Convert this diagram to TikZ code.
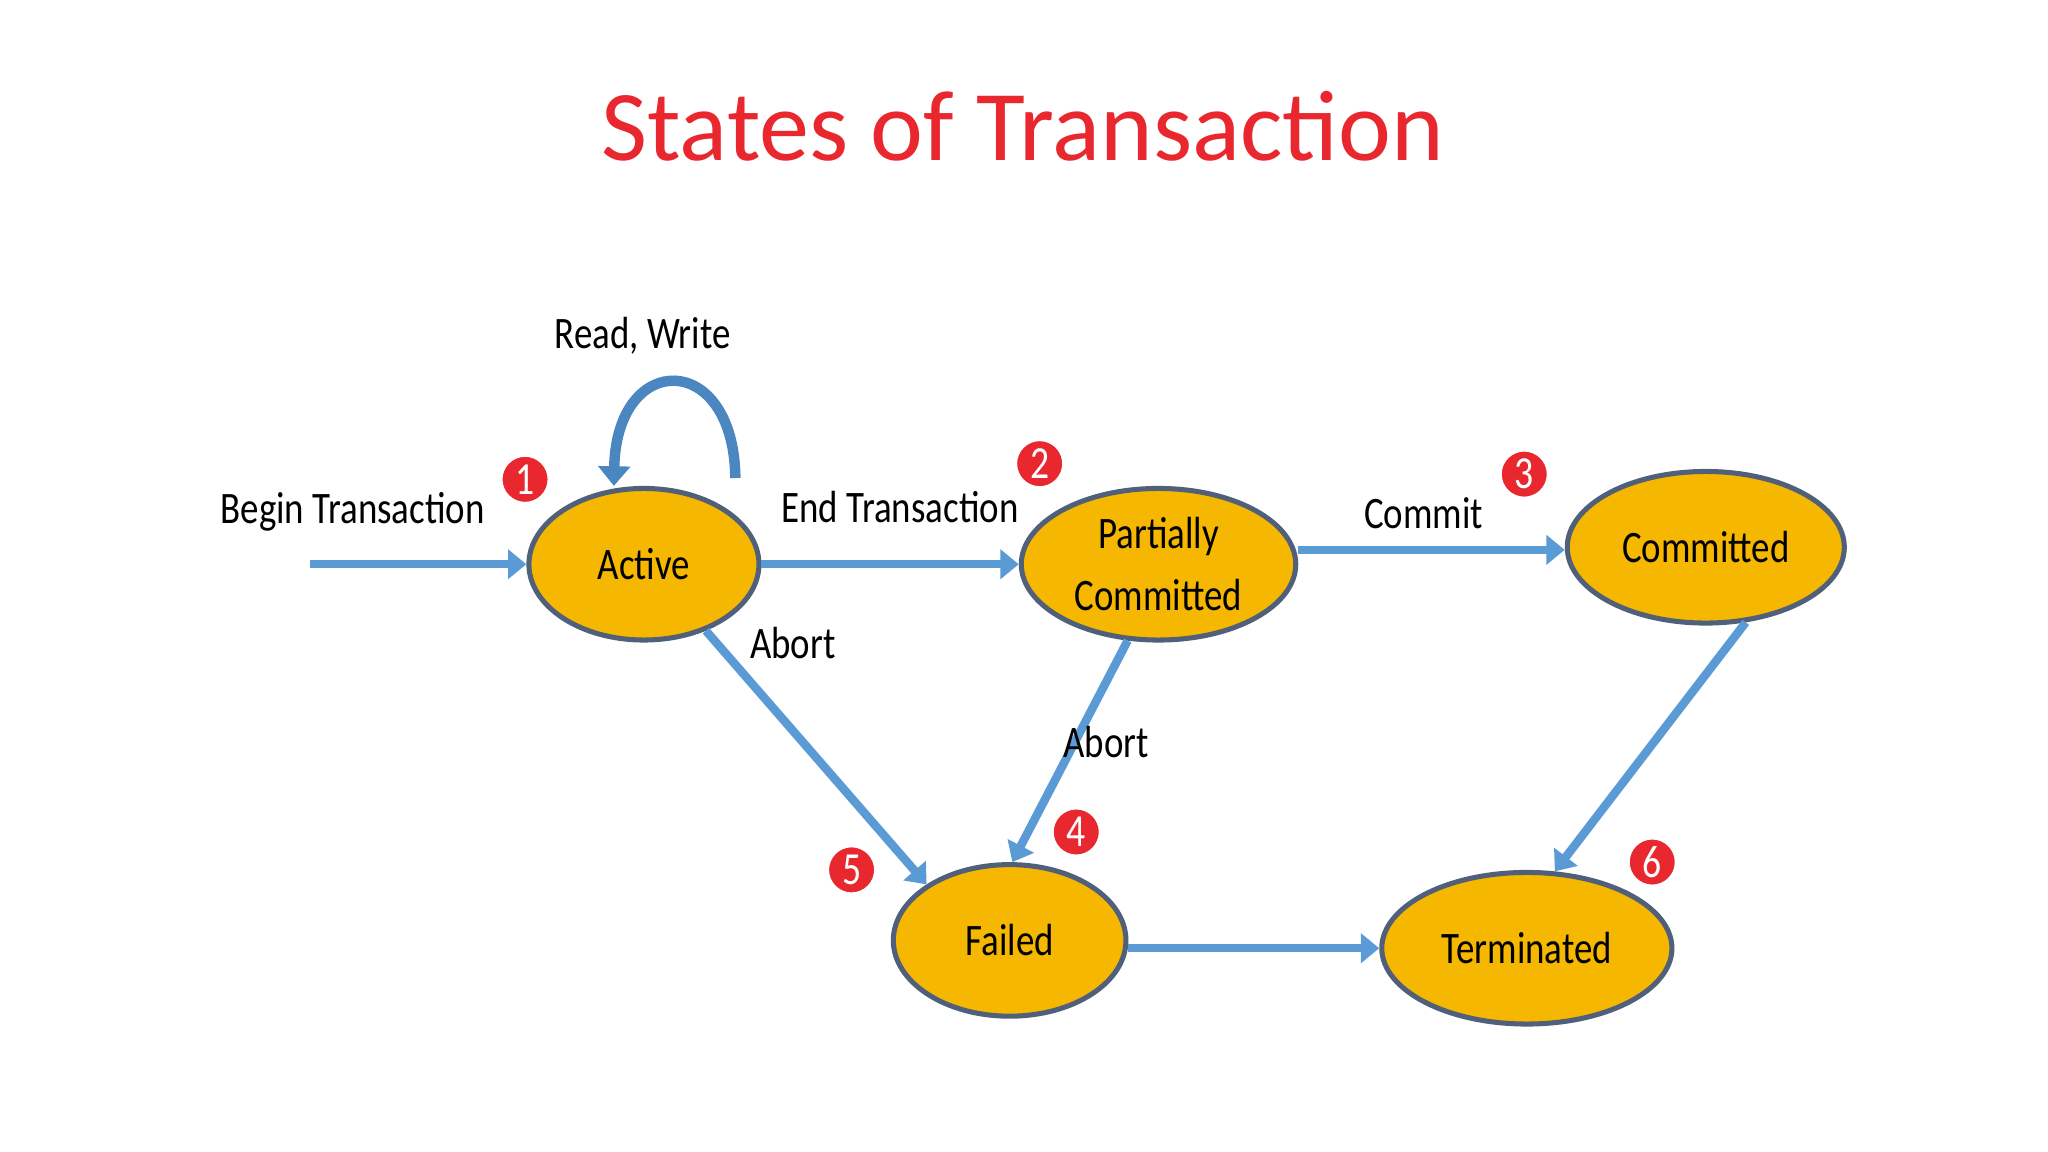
\documentclass[tikz,border=0pt]{standalone}
\usepackage{fontspec}
\setmainfont{Carlito}[FakeStretch=0.82]
\newfontfamily\titlefont{Carlito}
\usetikzlibrary{shapes.geometric,arrows.meta}
\definecolor{st}{HTML}{F5B700}
\definecolor{ar}{HTML}{5B9BD5}
\definecolor{lp}{HTML}{4A86C0}
\definecolor{bd}{HTML}{50607A}
\definecolor{rd}{HTML}{E8282E}
\tikzset{
 state/.style={ellipse,fill=st,draw=bd,line width=1.1pt,inner sep=0pt,font=\fontsize{9.8}{13.6}\selectfont,align=center},
 flow/.style={draw=ar,line width=0.065cm,-{Triangle[length=0.14cm,width=0.22cm]}},
 lbl/.style={font=\fontsize{9.8}{13}\selectfont},
 num/.style={circle,fill=rd,draw=white,line width=1pt,minimum size=0.38cm,inner sep=0pt,text=white,font=\fontsize{10}{12}\selectfont}
}
\begin{document}
\begin{tikzpicture}[x=0.01cm,y=-0.01cm]
\useasboundingbox[fill=white] (0,0) rectangle (1568,882);
\node[text=rd,font=\titlefont\fontsize{21.8}{28}\selectfont] (title) at (783,97) {States of Transaction};
\node[state,minimum width=1.76cm,minimum height=1.16cm] (a) at (493,432) {Active};
\node[state,minimum width=2.1cm,minimum height=1.16cm] (p) at (887,432) {Partially\\Committed};
\node[state,minimum width=2.12cm,minimum height=1.16cm] (c) at (1306,419) {Committed};
\node[state,minimum width=1.78cm,minimum height=1.16cm] (f) at (773,720) {Failed};
\node[state,minimum width=2.22cm,minimum height=1.16cm] (t) at (1169,726) {Terminated};
\coordinate (s) at (237,432);
\draw[flow] (s) -- (a.west);
\draw[flow] (a.east) -- (p.west);
\draw[flow] (p.east |- 0,421) -- (c.west |- 0,421);
\draw[flow] (a.-47) -- (f.146);
\draw[flow] (p.-112) -- (f.88);
\draw[flow] (c.-62) -- (t.70);
\draw[flow] (f.east |- t.west) -- (t.west);
\coordinate (l1) at (563,366);
\coordinate (l2) at (470,372);
\draw[draw=lp,line width=0.08cm,-{Triangle[length=0.15cm,width=0.24cm]}] (l1) .. controls (562,268) and (472,268) .. (l2);
\node[lbl] (rw) at (492,257) {Read, Write};
\node[lbl] (bt) at (270,392) {Begin Transaction};
\node[lbl] (et) at (689,388) {End Transaction};
\node[lbl] (cm) at (1090,393) {Commit};
\node[lbl] (ab1) at (607,492) {Abort};
\node[lbl] (ab2) at (847,568) {Abort};
\node[num] (n1) at (402,367) {1};
\node[num] (n2) at (796,355) {2};
\node[num] (n3) at (1167,363) {3};
\node[num] (n4) at (824,637) {4};
\node[num] (n5) at (652,666) {5};
\node[num] (n6) at (1265,660) {6};
\end{tikzpicture}
\end{document}
